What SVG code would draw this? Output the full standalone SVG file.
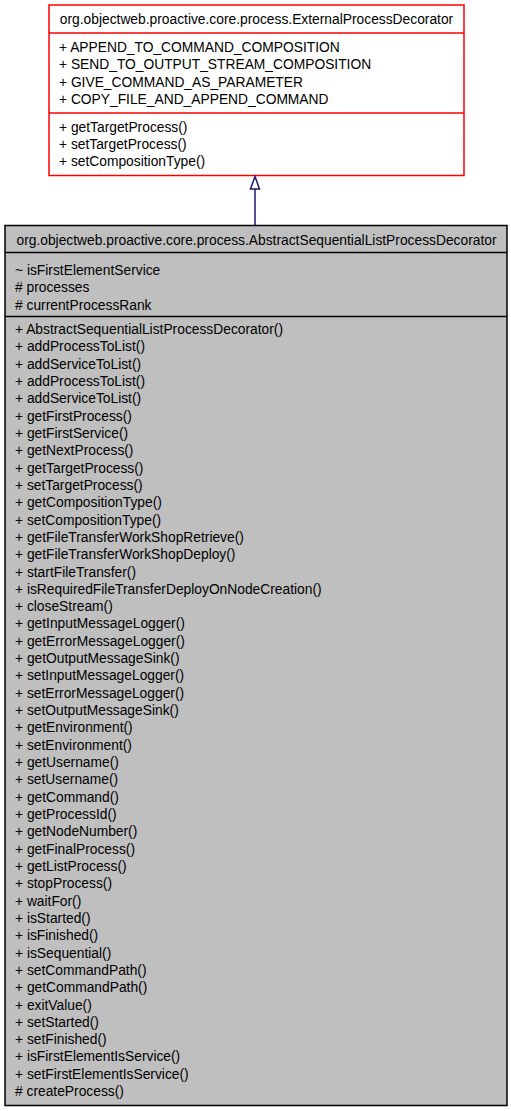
<svg xmlns="http://www.w3.org/2000/svg" width="511" height="1111" viewBox="0 0 511 1111">
<style>
text{font-family:"Liberation Sans",Arial,sans-serif;font-size:13.8px;fill:#000}
.c{text-anchor:middle}
.top{fill:#fff;stroke:#ff0000;stroke-width:1.5}
.bot{fill:#bfbfbf;stroke:#000;stroke-width:1.5}
.divr{stroke:#ff0000;stroke-width:1.5}
.divb{stroke:#000;stroke-width:1.5}
.edge{stroke:#191970;stroke-width:1.5;fill:none}
.head{stroke:#191970;stroke-width:1.5;fill:#fff}
</style>
<rect width="511" height="1111" fill="#fff"/>
<g id="node-ExternalProcessDecorator">
<rect class="top" x="49" y="5" width="415" height="170.5"/>
<line class="divr" x1="49" y1="33" x2="464" y2="33"/>
<line class="divr" x1="49" y1="113" x2="464" y2="113"/>
<text class="c" x="256.5" y="24">org.objectweb.proactive.core.process.ExternalProcessDecorator</text>
<text x="59" y="52">+ APPEND_TO_COMMAND_COMPOSITION</text>
<text x="59" y="69.3">+ SEND_TO_OUTPUT_STREAM_COMPOSITION</text>
<text x="59" y="86.6">+ GIVE_COMMAND_AS_PARAMETER</text>
<text x="59" y="104">+ COPY_FILE_AND_APPEND_COMMAND</text>
<text x="59" y="131.5">+ getTargetProcess()</text>
<text x="59" y="148.8">+ setTargetProcess()</text>
<text x="59" y="166.1">+ setCompositionType()</text>
</g>
<g id="connectors">
<line class="edge" x1="255" y1="189" x2="255" y2="225"/>
<polygon class="head" points="255,176.5 250.5,189 259.5,189"/>
</g>
<g id="node-AbstractSequentialListProcessDecorator">
<rect class="bot" x="5" y="225.5" width="502" height="880"/>
<line class="divb" x1="5" y1="252.5" x2="507" y2="252.5"/>
<line class="divb" x1="5" y1="316.5" x2="507" y2="316.5"/>
<text class="c" x="256.5" y="245">org.objectweb.proactive.core.process.AbstractSequentialListProcessDecorator</text>
<text x="15" y="275">~ isFirstElementService</text>
<text x="15" y="292.3">#  processes</text>
<text x="15" y="309.6">#  currentProcessRank</text>
<text x="15" y="334">+ AbstractSequentialListProcessDecorator()</text>
<text x="15" y="351.3">+ addProcessToList()</text>
<text x="15" y="368.6">+ addServiceToList()</text>
<text x="15" y="386">+ addProcessToList()</text>
<text x="15" y="403.3">+ addServiceToList()</text>
<text x="15" y="420.6">+ getFirstProcess()</text>
<text x="15" y="437.9">+ getFirstService()</text>
<text x="15" y="455.2">+ getNextProcess()</text>
<text x="15" y="472.6">+ getTargetProcess()</text>
<text x="15" y="489.9">+ setTargetProcess()</text>
<text x="15" y="507.2">+ getCompositionType()</text>
<text x="15" y="524.5">+ setCompositionType()</text>
<text x="15" y="541.8">+ getFileTransferWorkShopRetrieve()</text>
<text x="15" y="559.2">+ getFileTransferWorkShopDeploy()</text>
<text x="15" y="576.5">+ startFileTransfer()</text>
<text x="15" y="593.8">+ isRequiredFileTransferDeployOnNodeCreation()</text>
<text x="15" y="611.1">+ closeStream()</text>
<text x="15" y="628.4">+ getInputMessageLogger()</text>
<text x="15" y="645.8">+ getErrorMessageLogger()</text>
<text x="15" y="663.1">+ getOutputMessageSink()</text>
<text x="15" y="680.4">+ setInputMessageLogger()</text>
<text x="15" y="697.7">+ setErrorMessageLogger()</text>
<text x="15" y="715">+ setOutputMessageSink()</text>
<text x="15" y="732.4">+ getEnvironment()</text>
<text x="15" y="749.7">+ setEnvironment()</text>
<text x="15" y="767">+ getUsername()</text>
<text x="15" y="784.3">+ setUsername()</text>
<text x="15" y="801.6">+ getCommand()</text>
<text x="15" y="819">+ getProcessId()</text>
<text x="15" y="836.3">+ getNodeNumber()</text>
<text x="15" y="853.6">+ getFinalProcess()</text>
<text x="15" y="870.9">+ getListProcess()</text>
<text x="15" y="888.2">+ stopProcess()</text>
<text x="15" y="905.6">+ waitFor()</text>
<text x="15" y="922.9">+ isStarted()</text>
<text x="15" y="940.2">+ isFinished()</text>
<text x="15" y="957.5">+ isSequential()</text>
<text x="15" y="974.8">+ setCommandPath()</text>
<text x="15" y="992.2">+ getCommandPath()</text>
<text x="15" y="1009.5">+ exitValue()</text>
<text x="15" y="1026.8">+ setStarted()</text>
<text x="15" y="1044.1">+ setFinished()</text>
<text x="15" y="1061.4">+ isFirstElementIsService()</text>
<text x="15" y="1078.8">+ setFirstElementIsService()</text>
<text x="15" y="1096.1">#  createProcess()</text>
</g>
</svg>
